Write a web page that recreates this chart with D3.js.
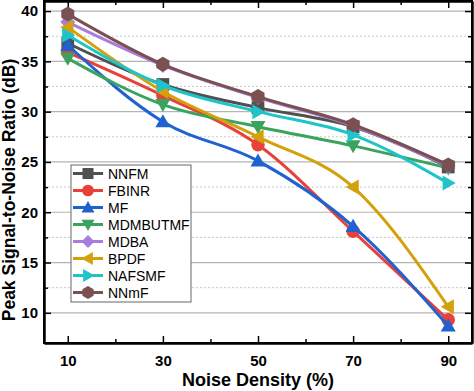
<!DOCTYPE html>
<html><head><meta charset="utf-8">
<script src="https://cdn.jsdelivr.net/npm/d3@7"></script>
<style>body{margin:0;background:#fff}svg{display:block}</style>
</head><body><svg id="c" width="474" height="391"></svg>
<script>
const xValues = [10, 30, 50, 70, 90];
const seriesNames = ["NNFM","FBINR","MF","MDMBUTMF","MDBA","BPDF","NAFSMF","NNmF"];
const NNFM     = [36.8, 32.7, 30.4, 28.5, 24.5];
const FBINR    = [35.9, 31.6, 26.7, 18.1, 9.3];
const MF       = [36.6, 29.0, 25.1, 18.6, 8.7];
const MDMBUTMF = [35.3, 30.7, 28.5, 26.6, 24.4];
const MDBA     = [38.9, 34.6, 31.4, 28.6, 24.6];
const BPDF     = [38.4, 32.0, 27.5, 22.5, 10.6];
const NAFSMF   = [37.6, 32.6, 30.0, 27.7, 22.9];
const NNmF     = [39.7, 34.7, 31.5, 28.7, 24.7];
const seriesValues = [NNFM, FBINR, MF, MDMBUTMF, MDBA, BPDF, NAFSMF, NNmF];
const colors = ["#505050","#e8413a","#1f62d0","#3aa35d","#a97ddc","#d3a10b","#1ec4c9","#7b5050"];
const symbols = ["square","circle","triUp","triDown","diamond","triLeft","triRight","hex"];
const xTicks = [10, 30, 50, 70, 90];
const yTicks = [10, 15, 20, 25, 30, 35, 40];

const svg = d3.select("#c");
const L = 44, R = 472, T = 1, B = 343;
const x = d3.scaleLinear().domain([5, 95]).range([L, R]);
const y = d3.scaleLinear().domain([7, 41]).range([B, T]);

// grid
const minorY = d3.range(12.5, 41, 5);
svg.append("g").selectAll("line").data(minorY).join("line")
  .attr("x1", L).attr("x2", R).attr("y1", d => y(d)).attr("y2", d => y(d))
  .attr("stroke", "#c8c8c8").attr("stroke-width", 1).attr("stroke-dasharray", "2,2");
svg.append("g").selectAll("line").data(yTicks).join("line")
  .attr("x1", L).attr("x2", R).attr("y1", d => y(d)).attr("y2", d => y(d))
  .attr("stroke", "#b4b4b4").attr("stroke-width", 1.2);

// axes
const font = "Arial, 'Liberation Sans', sans-serif";
svg.append("g").attr("transform", `translate(0,${B})`)
  .call(d3.axisBottom(x).tickValues(xTicks).tickSizeInner(-7).tickSizeOuter(0).tickPadding(12));
svg.append("g").attr("transform", `translate(0,${B})`)
  .call(d3.axisBottom(x).tickValues([20,40,60,80]).tickSizeInner(-4).tickSizeOuter(0).tickFormat(""));
svg.append("g").attr("transform", `translate(0,${T})`)
  .call(d3.axisTop(x).tickValues(xTicks).tickSizeInner(-7).tickSizeOuter(0).tickFormat(""));
svg.append("g").attr("transform", `translate(0,${T})`)
  .call(d3.axisTop(x).tickValues([20,40,60,80]).tickSizeInner(-4).tickSizeOuter(0).tickFormat(""));
svg.append("g").attr("transform", `translate(${L},0)`)
  .call(d3.axisLeft(y).tickValues(yTicks).tickSizeInner(-7).tickSizeOuter(0).tickPadding(6));
svg.append("g").attr("transform", `translate(${L},0)`)
  .call(d3.axisLeft(y).tickValues(minorY).tickSizeInner(-4).tickSizeOuter(0).tickFormat(""));
svg.append("g").attr("transform", `translate(${R},0)`)
  .call(d3.axisRight(y).tickValues(yTicks).tickSizeInner(-7).tickSizeOuter(0).tickFormat(""));
svg.append("g").attr("transform", `translate(${R},0)`)
  .call(d3.axisRight(y).tickValues(minorY).tickSizeInner(-4).tickSizeOuter(0).tickFormat(""));
svg.selectAll(".domain").attr("stroke", "#000").attr("stroke-width", 2);
svg.selectAll(".tick line").attr("stroke", "#000").attr("stroke-width", 1.5);
svg.selectAll(".tick text").attr("font-family", font).attr("font-size", 15)
  .attr("font-weight", "bold").attr("fill", "#000");

// frame
svg.append("rect").attr("x", L).attr("y", T).attr("width", R - L).attr("height", B - T)
  .attr("fill", "none").attr("stroke", "#000").attr("stroke-width", 2);

// titles
svg.append("text").attr("x", 258).attr("y", 386).attr("text-anchor", "middle")
  .attr("font-family", font).attr("font-size", 18).attr("font-weight", "bold").text("Noise Density (%)");
svg.append("text").attr("transform", `translate(10.5,190) rotate(-90)`)
  .attr("text-anchor", "middle").attr("dominant-baseline", "middle")
  .attr("font-family", font).attr("font-size", 17.5).attr("font-weight", "bold")
  .text("Peak Signal-to-Noise Ratio (dB)");

function drawSymbol(g, type, cx, cy, color, s) {
  let p;
  const r = s / 2;
  if (type === "square") {
    g.append("rect").attr("x", cx - r * 0.85).attr("y", cy - r * 0.85).attr("width", r * 1.7).attr("height", r * 1.7).attr("fill", color);
    return;
  }
  if (type === "circle") { g.append("circle").attr("cx", cx).attr("cy", cy).attr("r", r * 0.9).attr("fill", color); return; }
  if (type === "triUp") p = [[0,-r],[r,r*0.75],[-r,r*0.75]];
  if (type === "triDown") p = [[0,r],[r,-r*0.75],[-r,-r*0.75]];
  if (type === "triLeft") p = [[-r,0],[r*0.75,-r],[r*0.75,r]];
  if (type === "triRight") p = [[r,0],[-r*0.75,-r],[-r*0.75,r]];
  if (type === "diamond") p = [[0,-r],[r,0],[0,r],[-r,0]];
  if (type === "hex") p = d3.range(6).map(i => [r * Math.cos(Math.PI / 3 * i + Math.PI / 6), r * Math.sin(Math.PI / 3 * i + Math.PI / 6)]);
  g.append("polygon").attr("points", p.map(q => [cx + q[0], cy + q[1]].join(",")).join(" ")).attr("fill", color);
}

const line = d3.line().x((d, i) => x(xValues[i])).y(d => y(d)).curve(d3.curveMonotoneX);
const plot = svg.append("g");
seriesValues.forEach((vals, k) => {
  const g = plot.append("g");
  g.append("path").attr("d", line(vals)).attr("fill", "none").attr("stroke", colors[k]).attr("stroke-width", 3);
  vals.forEach((v, i) => drawSymbol(g, symbols[k], x(xValues[i]), y(v), colors[k], 15));
});

// legend
const lg = svg.append("g");
lg.append("rect").attr("x", 71).attr("y", 165).attr("width", 120).attr("height", 137)
  .attr("fill", "#fff").attr("stroke", "#666").attr("stroke-width", 1);
seriesNames.forEach((n, k) => {
  const yy = 173.5 + k * 17;
  lg.append("line").attr("x1", 73).attr("x2", 103).attr("y1", yy).attr("y2", yy)
    .attr("stroke", colors[k]).attr("stroke-width", 3);
  drawSymbol(lg, symbols[k], 88, yy, colors[k], 13);
  lg.append("text").attr("x", 108).attr("y", yy).attr("dominant-baseline", "central")
    .attr("font-family", font).attr("font-size", 14).attr("fill", "#000").text(n);
});
</script></body></html>
